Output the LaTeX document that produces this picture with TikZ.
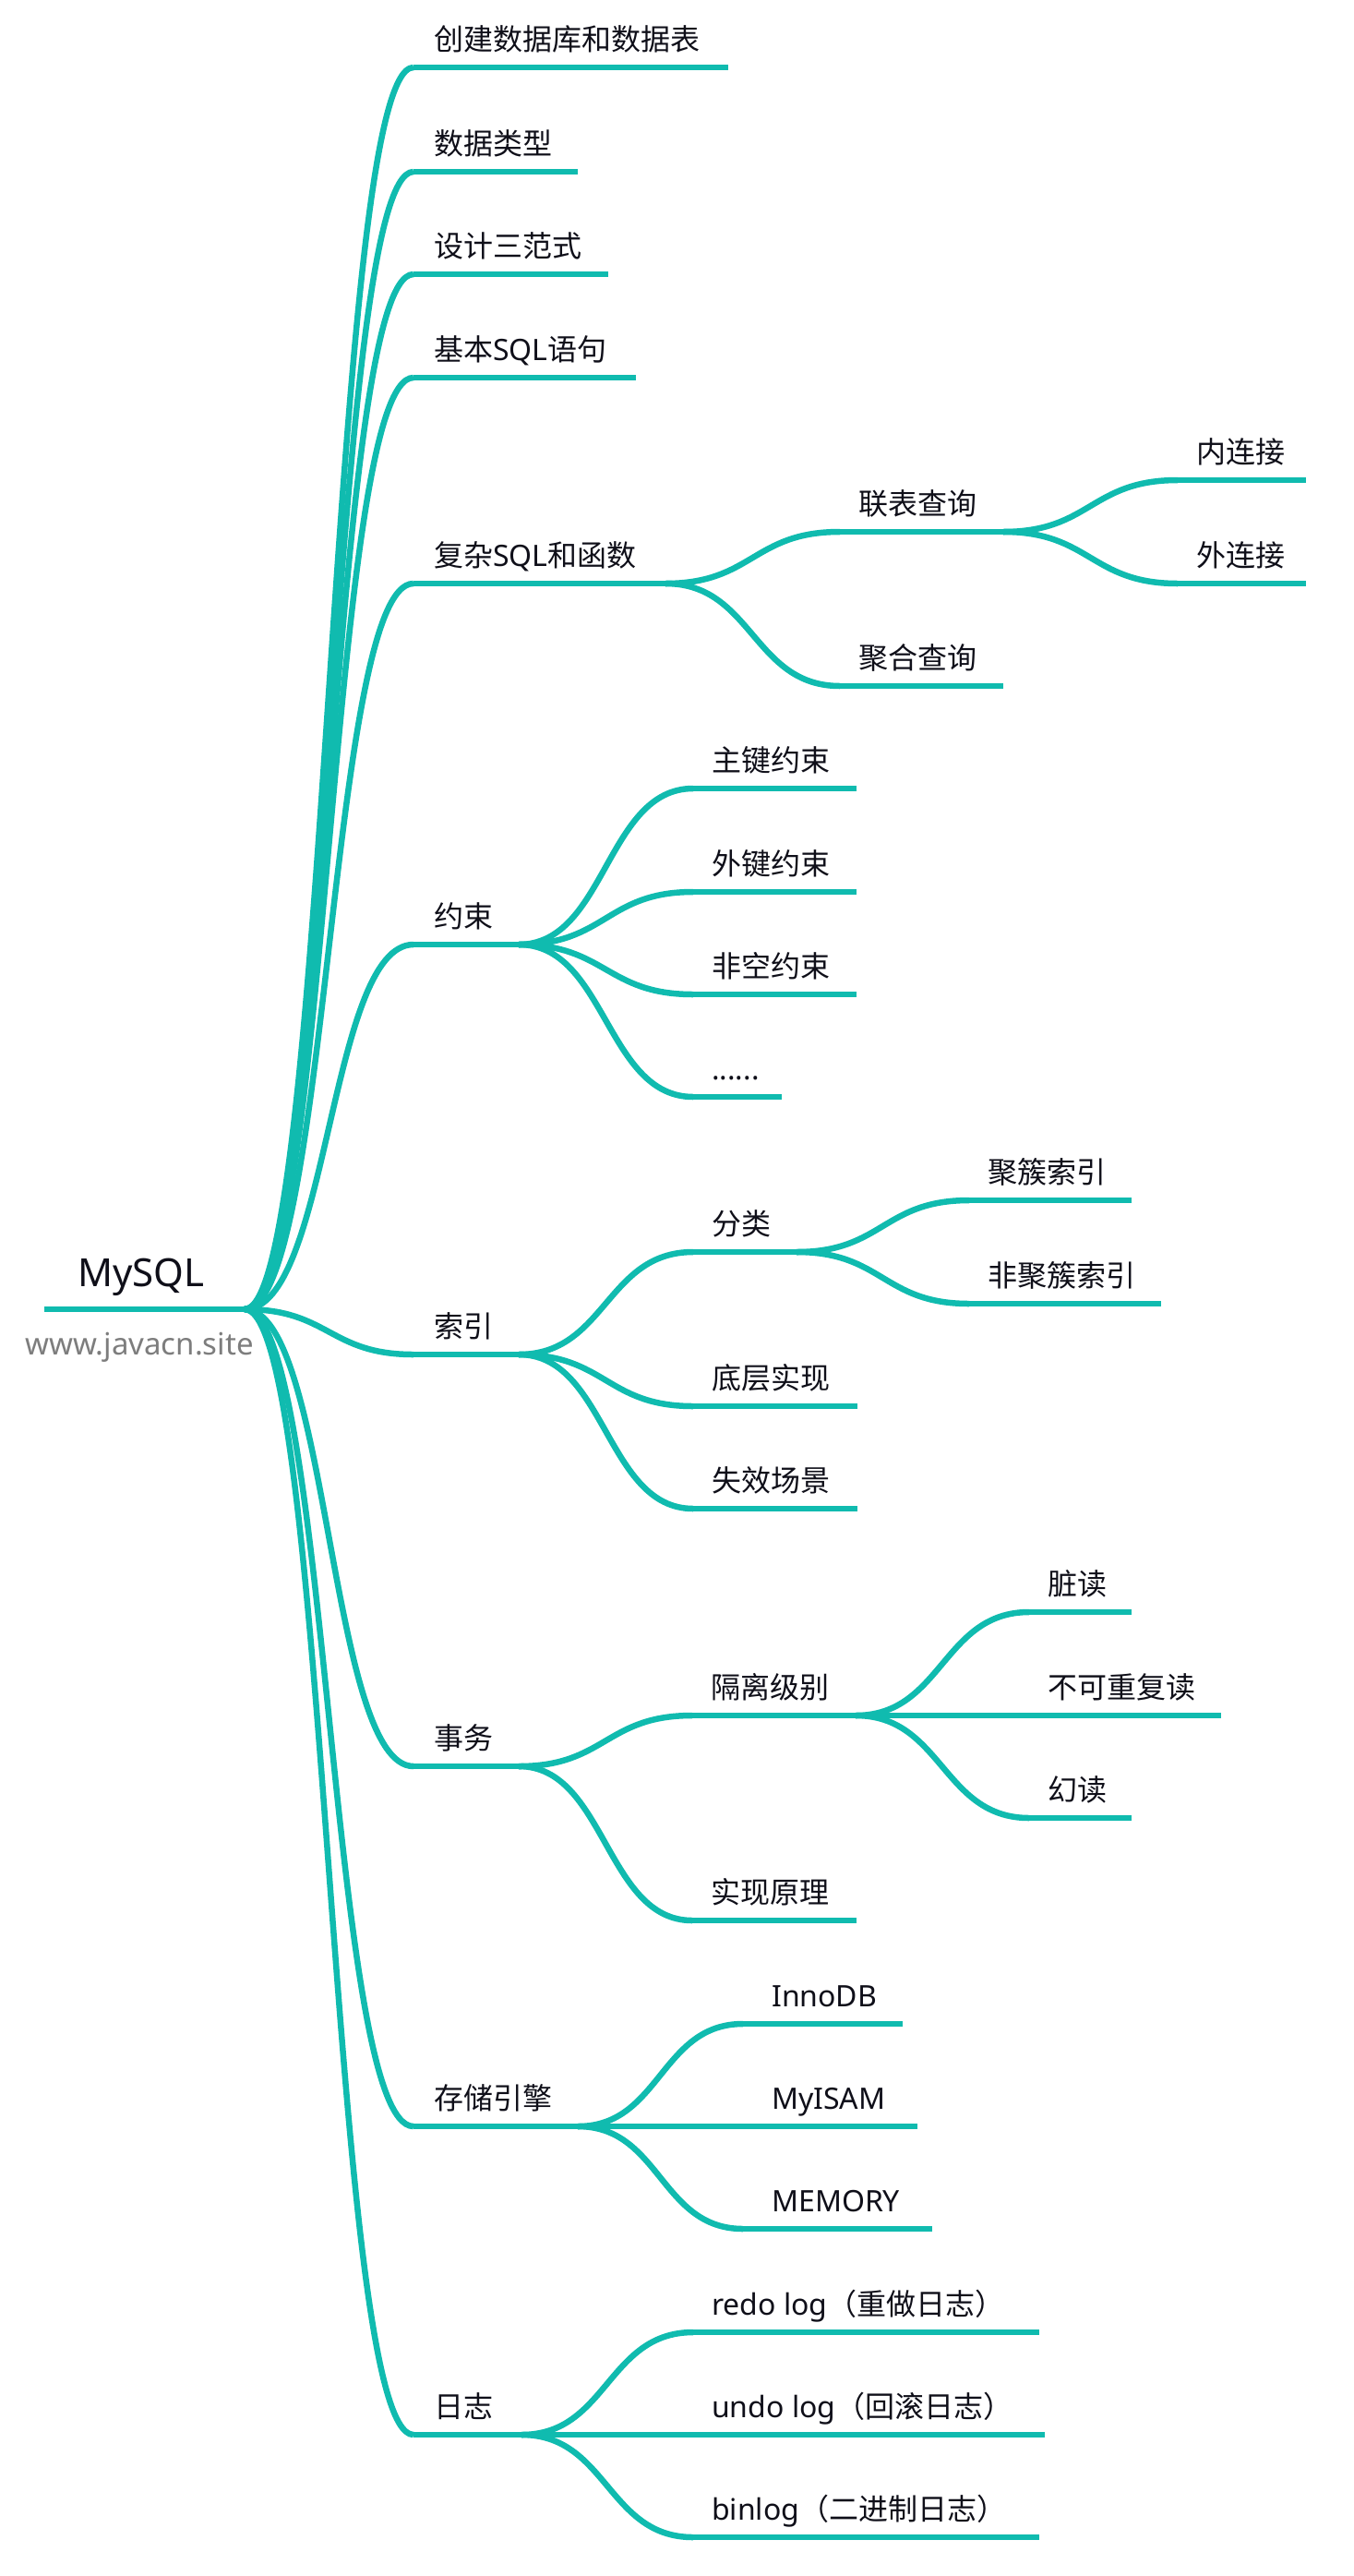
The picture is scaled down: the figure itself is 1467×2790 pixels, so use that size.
\documentclass[tikz,border=0pt]{standalone}
\usepackage{fontspec}
\setmainfont{Noto Sans CJK SC}
\newfontfamily\lat{Noto Sans}
\usetikzlibrary{calc}
\definecolor{teal}{RGB}{16,187,175}
\definecolor{ink}{RGB}{15,15,25}
\definecolor{sitegray}{RGB}{125,125,125}
\tikzset{
  br/.style={draw=teal,line width=6.5pt},
  lab/.style={anchor=base west,inner sep=0pt,text=ink,font=\fontsize{32}{38}\selectfont},
}
\newcommand\topic[6]{%
  \coordinate (#1-s) at (#2,#4);
  \coordinate (#1-e) at (#3,#4);
  \draw[br] (#1-s) -- (#1-e);
  \node[lab] (#1) at (#5,#4-19) {#6};}
\newcommand\link[2]{%
  \draw[br] let \p1=(#1-e), \p2=(#2-s) in
    (\p1) .. controls ({(\x1+\x2)/2},\y1) and ({(\x1+\x2)/2},\y2) .. (\p2);}
\begin{document}
\begin{tikzpicture}[x=1pt,y=-1pt]
\useasboundingbox (0,0) rectangle (1467,2790);
\fill[white] (0,0) rectangle (1467,2790);
% root
\coordinate (root-s) at (48,1418);
\coordinate (root-e) at (265,1418);
\draw[br] (root-s) -- (root-e);
\node[anchor=base,inner sep=0pt,text=ink,font=\lat\fontsize{42}{48}\selectfont] (root) at (153,1393) {MySQL};
\node[anchor=base,inner sep=0pt,text=sitegray,font=\lat\fontsize{33}{38}\selectfont] (site) at (151,1467) {www.javacn.site};
% level 1
\topic{c1}{448}{789}{73}{470}{创建数据库和数据表}
\topic{c2}{448}{626}{186}{470}{数据类型}
\topic{c3}{448}{659}{297}{470}{设计三范式}
\topic{c4}{448}{689}{409}{470}{基本{\lat SQL}语句}
\topic{c5}{448}{721}{632}{470}{复杂{\lat SQL}和函数}
\topic{c6}{448}{562}{1023}{470}{约束}
\topic{c7}{448}{562}{1467}{470}{索引}
\topic{c8}{448}{562}{1913}{470}{事务}
\topic{c9}{448}{626}{2303}{470}{存储引擎}
\topic{c10}{448}{565}{2637}{470}{日志}
\foreach \c in {c1,c2,c3,c4,c5,c6,c7,c8,c9,c10} {\link{root}{\c}}
% 复杂SQL和函数
\topic{c5a}{910}{1087}{576}{930}{联表查询}
\topic{c5b}{910}{1087}{743}{930}{聚合查询}
\link{c5}{c5a}\link{c5}{c5b}
\topic{c5a1}{1276}{1415}{520}{1296}{内连接}
\topic{c5a2}{1276}{1415}{632}{1296}{外连接}
\link{c5a}{c5a1}\link{c5a}{c5a2}
% 约束
\topic{c6a}{751}{928}{854}{771}{主键约束}
\topic{c6b}{751}{928}{966}{771}{外键约束}
\topic{c6c}{751}{928}{1077}{771}{非空约束}
\topic{c6d}{751}{847}{1188}{771}{{\lat ......}}
\link{c6}{c6a}\link{c6}{c6b}\link{c6}{c6c}\link{c6}{c6d}
% 索引
\topic{c7a}{751}{863}{1356}{771}{分类}
\topic{c7b}{751}{929}{1523}{771}{底层实现}
\topic{c7c}{751}{929}{1634}{771}{失效场景}
\link{c7}{c7a}\link{c7}{c7b}\link{c7}{c7c}
\topic{c7a1}{1050}{1226}{1300}{1070}{聚簇索引}
\topic{c7a2}{1050}{1258}{1412}{1070}{非聚簇索引}
\link{c7a}{c7a1}\link{c7a}{c7a2}
% 事务
\topic{c8a}{750}{927}{1858}{770}{隔离级别}
\topic{c8b}{750}{928}{2080}{770}{实现原理}
\link{c8}{c8a}\link{c8}{c8b}
\topic{c8a1}{1115}{1226}{1746}{1135}{脏读}
\topic{c8a2}{1115}{1323}{1858}{1135}{不可重复读}
\topic{c8a3}{1115}{1226}{1969}{1135}{幻读}
\link{c8a}{c8a1}\link{c8a}{c8a2}\link{c8a}{c8a3}
% 存储引擎
\topic{c9a}{805}{978}{2192}{836}{{\lat InnoDB}}
\topic{c9b}{805}{994}{2303}{836}{{\lat MyISAM}}
\topic{c9c}{805}{1010}{2414}{836}{{\lat MEMORY}}
\link{c9}{c9a}\link{c9}{c9b}\link{c9}{c9c}
% 日志
\topic{c10a}{751}{1126}{2526}{771}{{\lat redo log}（重做日志）}
\topic{c10b}{751}{1132}{2637}{771}{{\lat undo log}（回滚日志）}
\topic{c10c}{751}{1126}{2748}{771}{{\lat binlog}（二进制日志）}
\link{c10}{c10a}\link{c10}{c10b}\link{c10}{c10c}
\end{tikzpicture}
\end{document}
